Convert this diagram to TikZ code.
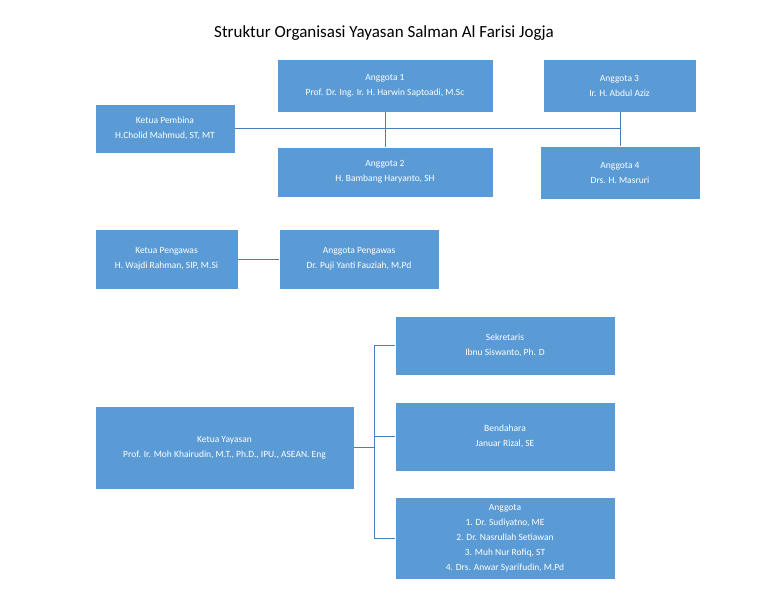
\documentclass[tikz,border=0pt]{standalone}
\usepackage{fontspec}
\setmainfont{Carlito}
\definecolor{boxblue}{HTML}{5B9BD5}
\definecolor{linegray}{HTML}{4A7EBB}
\begin{document}
\begin{tikzpicture}[x=1pt,y=-1pt,
  bx/.style={fill=boxblue,draw=white,line width=0.6pt,text=white,font=\fontsize{9.5}{15}\selectfont,align=center,inner sep=0pt},
  ln/.style={draw=linegray,line width=0.8pt}]
\useasboundingbox (0,0) rectangle (768,594);
\fill[white] (0,0) rectangle (768,594);
\node[font=\fontsize{17}{20}\selectfont] (title) at (384,33) {Struktur Organisasi Yayasan Salman Al Farisi Jogja};
\newcommand\bx[6]{\node[bx,minimum width=#4-#2,minimum height=#5-#3] (#1) at ({(#2+#4)/2},{(#3+#5)/2}) {#6};}
\bx{kp}{95}{104}{235}{153}{Ketua Pembina\\H.Cholid Mahmud, ST, MT}
\bx{a1}{277}{59}{493}{112}{Anggota 1\\Prof. Dr. Ing. Ir. H. Harwin Saptoadi, M.Sc}
\bx{a3}{543}{59}{696}{112}{Anggota 3\\Ir. H. Abdul Aziz}
\bx{a2}{277}{147}{493}{197}{Anggota 2\\H. Bambang Haryanto, SH}
\bx{a4}{540}{146}{700}{199}{Anggota 4\\Drs. H. Masruri}
\bx{kw}{95}{229}{238}{289}{Ketua Pengawas\\H. Wajdi Rahman, SIP, M.Si}
\bx{aw}{279}{229}{439}{289}{Anggota Pengawas\\Dr. Puji Yanti Fauziah, M.Pd}
\bx{sk}{395}{316}{615}{375}{Sekretaris\\Ibnu Siswanto, Ph. D}
\bx{bd}{395}{402}{615}{471}{Bendahara\\Januar Rizal, SE}
\bx{ag}{395}{497}{615}{579}{\raisebox{0pt}[0pt][0pt]{}Anggota\\1. Dr. Sudiyatno, ME\\2. Dr. Nasrullah Setiawan\\3. Muh Nur Rofiq, ST\\4. Drs. Anwar Syarifudin, M.Pd}
\bx{ky}{95}{406}{354}{489}{Ketua Yayasan\\Prof. Ir. Moh Khairudin, M.T., Ph.D., IPU., ASEAN. Eng}
\coordinate (j) at (620,128);
\coordinate (b) at (374,447);
\draw[ln] (kp.east|-j) -- (j);
\draw[ln] (a1.south) -- (a2.north);
\draw[ln] (j|-a3.south) -- (j|-a4.north);
\draw[ln] (kw.east|-aw.west) -- (aw.west);
\draw[ln] (ky.east|-b) -- (b);
\draw[ln] (b|-sk.west) -- (sk.west);
\draw[ln] (b|-bd.west) -- (bd.west);
\draw[ln] (b|-ag.west) -- (ag.west);
\draw[ln] (b|-sk.west) -- (b|-ag.west);
\end{tikzpicture}
\end{document}
